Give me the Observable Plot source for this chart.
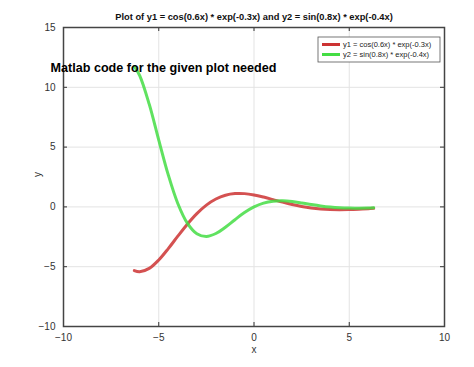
<!DOCTYPE html>
<html>
<head>
<meta charset="utf-8">
<script src="https://cdn.jsdelivr.net/npm/d3@7"></script>
<script src="https://cdn.jsdelivr.net/npm/@observablehq/plot@0.6"></script>
<style>
  html, body { margin: 0; padding: 0; background: #fff; }
  svg { display: block; }
</style>
</head>
<body>
<div id="chart"></div>
<script>
const xs = [-6.2832, -6, -5.5, -5, -4.5, -4, -3.5, -3, -2.5, -2, -1.5, -1, -0.5, 0, 0.5, 1, 1.5, 2, 2.5, 3, 3.5, 4, 4.5, 5, 5.5, 6, 6.2832];
const y1 = [-5.328, -5.425, -5.142, -4.437, -3.487, -2.448, -1.443, -0.559, 0.150, 0.660, 0.975, 1.114, 1.110, 1.000, 0.822, 0.611, 0.396, 0.199, 0.033, -0.092, -0.177, -0.222, -0.234, -0.221, -0.190, -0.148, -0.123];
const y2 = [11.741, 10.981, 8.588, 5.592, 2.677, 0.289, -1.358, -2.243, -2.472, -2.225, -1.698, -1.070, -0.476, 0.000, 0.319, 0.481, 0.512, 0.449, 0.335, 0.203, 0.083, -0.012, -0.073, -0.102, -0.105, -0.090, -0.077];
const xTicks = [-10, -5, 0, 5, 10];
const yTicks = [-10, -5, 0, 5, 10, 15];
const seriesNames = ["y1 = cos(0.6x) * exp(-0.3x)", "y2 = sin(0.8x) * exp(-0.4x)"];
const seriesColors = ["#cc3333", "#44dd44"];
const titleText = "Plot of y1 = cos(0.6x) * exp(-0.3x) and y2 = sin(0.8x) * exp(-0.4x)";
const overlayText = "Matlab code for the given plot needed";

const d1 = xs.map((x, i) => ({x, y: y1[i]}));
const d2 = xs.map((x, i) => ({x, y: y2[i]}));

const W = 474, H = 367;
const mL = 63, mR = 30, mT = 27, mB = 41;
const pxX = 20 / (W - mL - mR);
const pxY = 25 / (H - mT - mB);
const tk = 4;

const plot = Plot.plot({
  width: W,
  height: H,
  marginLeft: mL,
  marginRight: mR,
  marginTop: mT,
  marginBottom: mB,
  style: {fontFamily: "Liberation Sans, Arial, sans-serif", fontSize: "10px", color: "#333", background: "#fff"},
  x: {domain: [-10, 10], ticks: xTicks, label: null},
  y: {domain: [-10, 15], ticks: yTicks, label: null},
  marks: [
    Plot.gridX(xTicks, {stroke: "#e3e3e3", strokeOpacity: 1, strokeWidth: 1}),
    Plot.gridY(yTicks, {stroke: "#e3e3e3", strokeOpacity: 1, strokeWidth: 1}),
    Plot.axisX({ticks: xTicks, tickSize: 0, tickPadding: 7, fontSize: 10, fill: "#333", label: null}),
    Plot.axisY({ticks: yTicks, tickSize: 0, tickPadding: 8, fontSize: 10, fill: "#333", label: null}),
    Plot.line(d1, {x: "x", y: "y", stroke: seriesColors[0], strokeWidth: 3, strokeOpacity: 0.85, curve: "catmull-rom"}),
    Plot.line(d2, {x: "x", y: "y", stroke: seriesColors[1], strokeWidth: 3, strokeOpacity: 0.85, curve: "catmull-rom"}),
    Plot.ruleX(xTicks, {x: d => d, y1: -10, y2: -10 + tk * pxY, stroke: "#333", strokeWidth: 1}),
    Plot.ruleX(xTicks, {x: d => d, y1: 15, y2: 15 - tk * pxY, stroke: "#333", strokeWidth: 1}),
    Plot.ruleY(yTicks, {y: d => d, x1: -10, x2: -10 + tk * pxX, stroke: "#333", strokeWidth: 1}),
    Plot.ruleY(yTicks, {y: d => d, x1: 10, x2: 10 - tk * pxX, stroke: "#333", strokeWidth: 1}),
    Plot.frame({stroke: "#444", strokeWidth: 1.5}),
    Plot.text(["x"], {frameAnchor: "bottom", dy: 26, text: d => d, fontSize: 10, fill: "#333"}),
    Plot.text(["y"], {frameAnchor: "left", dx: -26, dy: 0, text: d => d, fontSize: 10, fill: "#333", rotate: -90}),
    Plot.text([titleText], {frameAnchor: "top", dy: -14, text: d => d, fontSize: 9.3, fontWeight: "bold", fill: "#111"}),
    Plot.text([overlayText], {frameAnchor: "top-left", dx: -13, dy: 40, text: d => d, fontSize: 12.6, fontWeight: "bold", fill: "#000", textAnchor: "start", lineAnchor: "middle"})
  ]
});

const svg = d3.select(plot);
const xr = plot.scale("x").range, yr = plot.scale("y").range;
const frameRight = Math.max(...xr), frameTop = Math.min(...yr);
const lw = 122, lh = 25;
const lx = frameRight - 4 - lw, ly = frameTop + 10;
const g = svg.append("g").attr("font-family", "Liberation Sans, Arial, sans-serif").attr("font-size", 7.5).attr("text-anchor", "start");
g.append("rect").attr("x", lx).attr("y", ly).attr("width", lw).attr("height", lh)
  .attr("fill", "#fff").attr("stroke", "#555").attr("stroke-width", 0.8);
seriesNames.forEach((name, i) => {
  const yy = ly + 7.5 + i * 10;
  g.append("line").attr("x1", lx + 4).attr("x2", lx + 22).attr("y1", yy).attr("y2", yy)
    .attr("stroke", seriesColors[i]).attr("stroke-width", 3);
  g.append("text").attr("x", lx + 25).attr("y", yy).attr("dy", "0.32em").attr("text-anchor", "start").attr("fill", "#222").text(name);
});

document.getElementById("chart").appendChild(plot);
</script>
</body>
</html>
